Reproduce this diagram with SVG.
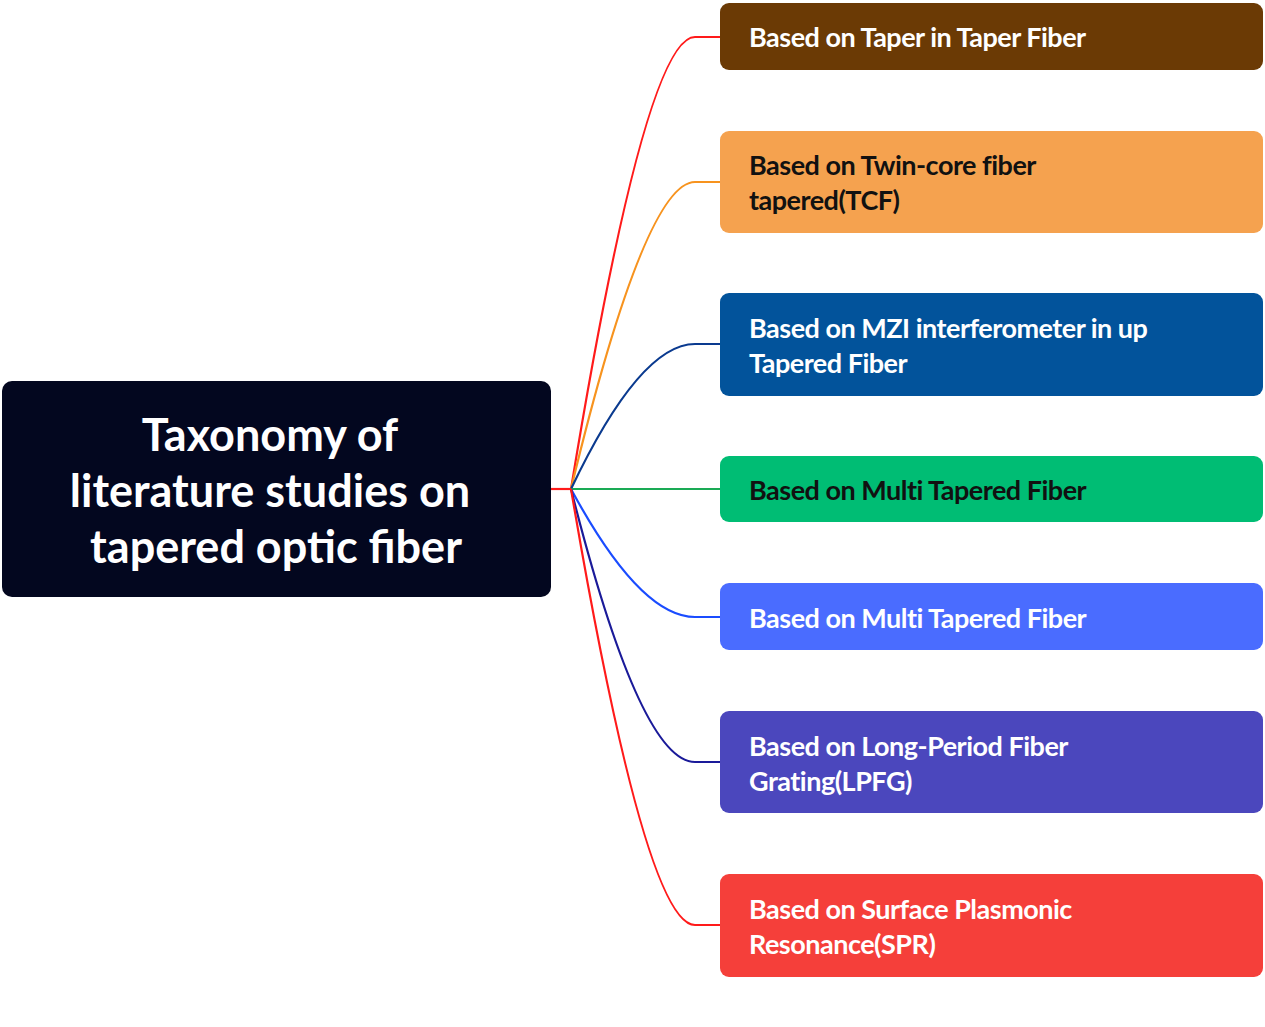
<svg xmlns="http://www.w3.org/2000/svg" width="1265" height="1027" viewBox="0 0 1265 1027">
<style>
.t{font-family:Lato,"Open Sans",sans-serif;font-weight:bold;font-size:27px;letter-spacing:-0.5px}
.w{fill:#fff}.k{fill:#111}
.c{fill:none;stroke-width:2.2}
</style>
<rect width="1265" height="1027" fill="#fff"/>
<g id="connectors">
<path class="c" stroke="#ff1a1a" d="M571,489 Q645,37 695,37 L720,37"/>
<path class="c" stroke="#f7931e" d="M571,489 Q645,182 695,182 L720,182"/>
<path class="c" stroke="#0a3a8f" d="M571,489 Q640,344 695,344 L720,344"/>
<path class="c" stroke="#1aaa55" d="M571,489 L720,489"/>
<path class="c" stroke="#1a4cff" d="M571,489 Q640,617 695,617 L720,617"/>
<path class="c" stroke="#1a1a99" d="M571,489 Q640,762 695,762 L720,762"/>
<path class="c" stroke="#ff1a1a" d="M571,489 Q645,925 695,925 L720,925"/>
<path class="c" stroke="#ff1a1a" d="M551,489 L571,489"/>
</g>
<g id="root"><rect x="2" y="381" width="549" height="216" rx="10" fill="#03071f"/>
<text x="270" y="451" text-anchor="middle" class="w" style="font-family:Lato,sans-serif;font-weight:bold;font-size:45px">Taxonomy of</text>
<text x="270" y="507" text-anchor="middle" class="w" style="font-family:Lato,sans-serif;font-weight:bold;font-size:45px">literature studies on</text>
<text x="276" y="563" text-anchor="middle" class="w" style="font-family:Lato,sans-serif;font-weight:bold;font-size:45px">tapered optic fiber</text></g>
<g id="n1"><rect x="720" y="3" width="543" height="67" rx="9" fill="#6b3a05"/><text x="749" y="47" class="t w">Based on Taper in Taper Fiber</text></g>
<g id="n2"><rect x="720" y="131" width="543" height="102" rx="9" fill="#f5a24f"/><text x="749" y="175" class="t k">Based on Twin-core fiber</text><text x="749" y="210" class="t k">tapered(TCF)</text></g>
<g id="n3"><rect x="720" y="293" width="543" height="103" rx="9" fill="#02539b"/><text x="749" y="338" class="t w">Based on MZI interferometer in up</text><text x="749" y="373" class="t w">Tapered Fiber</text></g>
<g id="n4"><rect x="720" y="456" width="543" height="66" rx="9" fill="#00bd74"/><text x="749" y="500" class="t k">Based on Multi Tapered Fiber</text></g>
<g id="n5"><rect x="720" y="583" width="543" height="67" rx="9" fill="#4a6cff"/><text x="749" y="628" class="t w">Based on Multi Tapered Fiber</text></g>
<g id="n6"><rect x="720" y="711" width="543" height="102" rx="9" fill="#4b47bd"/><text x="749" y="756" class="t w">Based on Long-Period Fiber</text><text x="749" y="791" class="t w">Grating(LPFG)</text></g>
<g id="n7"><rect x="720" y="874" width="543" height="103" rx="9" fill="#f53f3a"/><text x="749" y="919" class="t w">Based on Surface Plasmonic</text><text x="749" y="954" class="t w">Resonance(SPR)</text></g>
</svg>
